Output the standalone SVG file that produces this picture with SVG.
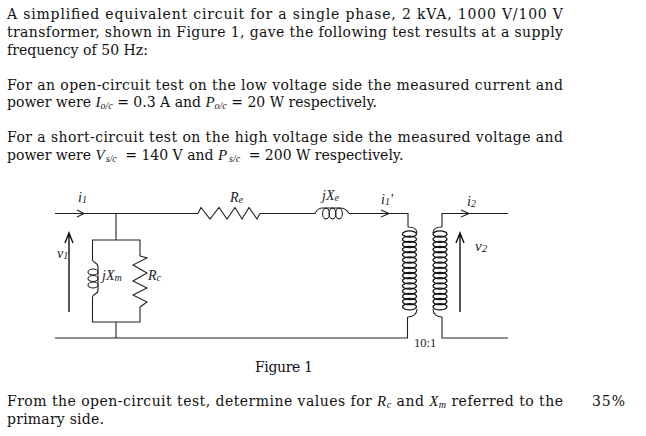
<svg xmlns="http://www.w3.org/2000/svg" width="646" height="436" viewBox="0 0 646 436">
<style>
.t{font-family:"DejaVu Serif",serif;font-size:14px;fill:#111}
.l{font-family:"Liberation Serif",serif;font-size:14px;fill:#1a1a2a}
.i{font-style:italic}
.m{font-family:"Liberation Serif",serif;font-style:italic;font-size:15px}
.s{font-family:"Liberation Serif",serif;font-size:10px;font-style:italic}
.w{fill:none;stroke:#222;stroke-width:1.1}
.h{fill:none;stroke:#111;stroke-width:1.4}
.c{fill:none;stroke:#111;stroke-width:1.3}
</style>
<defs>
<g id="loops"><ellipse class="c" cx="0" cy="0" rx="7" ry="3.1"/><ellipse class="c" cx="0" cy="5.2" rx="7" ry="3.1"/><ellipse class="c" cx="0" cy="10.4" rx="7" ry="3.1"/><ellipse class="c" cx="0" cy="15.6" rx="7" ry="3.1"/><ellipse class="c" cx="0" cy="20.8" rx="7" ry="3.1"/></g>
<g id="coil"><use href="#loops"/><use href="#loops" y="26"/><use href="#loops" y="52"/></g>
</defs>
<rect width="646" height="436" fill="#fff"/>
<g id="text">
<text class="t" x="7" y="19" textLength="556">A simplified equivalent circuit for a single phase, 2 kVA, 1000 V/100 V</text>
<text class="t" x="7" y="37" textLength="556">transformer, shown in Figure 1, gave the following test results at a supply</text>
<text class="t" x="7" y="55" textLength="141">frequency of 50 Hz:</text>
<text class="t" x="7" y="90" textLength="556">For an open-circuit test on the low voltage side the measured current and</text>
<text class="t" x="7" y="107">power were <tspan class="m">I</tspan><tspan class="s" dy="2">o/c</tspan><tspan dy="-2"> = 0.3 A and </tspan><tspan class="m">P</tspan><tspan class="s" dy="2">o/c</tspan><tspan dy="-2"> = 20 W respectively.</tspan></text>
<text class="t" x="7" y="142" textLength="556">For a short-circuit test on the high voltage side the measured voltage and</text>
<text class="t" x="7" y="160">power were <tspan class="m">V</tspan><tspan class="s" dy="2" dx="1">s/c</tspan><tspan dy="-2" dx="4"> = 140 V and </tspan><tspan class="m">P</tspan><tspan class="s" dy="2" dx="2">s/c</tspan><tspan dy="-2" dx="4"> = 200 W respectively.</tspan></text>
<text class="t" x="255" y="372" textLength="58">Figure 1</text>
<text class="t" x="7" y="406" textLength="556">From the open-circuit test, determine values for <tspan class="m">R</tspan><tspan class="s" dy="2">c</tspan><tspan dy="-2"> and </tspan><tspan class="m">X</tspan><tspan class="s" dy="2">m</tspan><tspan dy="-2"> referred to the</tspan></text>
<text class="t" x="592" y="406" textLength="33">35%</text>
<text class="t" x="7" y="424" textLength="97">primary side.</text>
</g>
<g id="connectors">
<path class="w" d="M55 213.5H198M260 213.5H315M349 213.5H408V227M55 338H407.5V317M442 227V213.5H508M442 317V338H508"/>
<path class="w" d="M116 213.5V240M92.5 260V240H140V256M140 307V322H92.5V297M116 322V338"/>
<path class="h" d="M69 312V234M65 243L69 233L73 243"/>
<path class="h" d="M460 312V234M456 243L460 233L464 243"/>
<path class="w" d="M77 210L84 213.5L77 217M381 210L389 213.5L381 217M461 210L469 213.5L461 217"/>
</g>
<g id="Re"><path class="w" d="M198 213.5L201 207.5L210 219L219 207.5L227 219L235 207.5L242 219L249 207.5L257 219L260 213.5"/><text class="l i" x="230" y="202">R<tspan class="s" dy="1">e</tspan></text></g>
<g id="jXe"><path class="w" d="M315 213.5C317 209 319 208 323 208H340C345 208 347 210 349 213.5"/><ellipse class="w" cx="326" cy="213.5" rx="3.4" ry="5.4"/><ellipse class="w" cx="332.5" cy="213.5" rx="3.4" ry="5.4"/><ellipse class="w" cx="339" cy="213.5" rx="3.4" ry="5.4"/><text class="l i" x="322" y="200">jX<tspan class="s" dy="1">e</tspan></text></g>
<g id="jXm"><path class="w" d="M92.5 260C93 263 98 262 98 267V290C98 295 93 293 92.5 297"/><ellipse class="w" cx="93" cy="272" rx="5" ry="3"/><ellipse class="w" cx="93" cy="278.5" rx="5" ry="3"/><ellipse class="w" cx="93" cy="285" rx="5" ry="3"/><text class="l i" x="102" y="280">jX<tspan class="s" dy="1">m</tspan></text></g>
<g id="Rc"><path class="w" d="M140 256L147 258L133 265L147 273L133 281L147 288L133 295L147 302L140 307"/><text class="l i" x="148" y="280">R<tspan class="s" dy="1">c</tspan></text></g>
<g id="primary"><path class="w" d="M408 227C413 227 417 229 417 233"/><use href="#coil" x="409.5" y="234"/><path class="w" d="M417 309C417 314 413 317 407.5 317"/></g>
<g id="secondary"><path class="w" d="M442 227C437 227 433 229 433 233"/><use href="#coil" x="440" y="234"/><path class="w" d="M433 309C433 314 437 317 442 317"/></g>
<g id="labels">
<text class="l i" x="78" y="202">i<tspan class="s" dy="1">1</tspan></text>
<text class="l i" x="381" y="204">i<tspan class="s" dy="1">1</tspan><tspan dy="-1">'</tspan></text>
<text class="l i" x="467" y="206">i<tspan class="s" dy="1" font-style="normal">2</tspan></text>
<text class="l i" x="57" y="258">v<tspan class="s" dy="1">1</tspan></text>
<text class="l i" x="475" y="251" style="font-size:15px">v<tspan class="s" dy="1" font-style="normal" style="font-size:11px">2</tspan></text>
<text class="l" x="414" y="347" style="font-size:12.5px">10:1</text>
</g>
</svg>
